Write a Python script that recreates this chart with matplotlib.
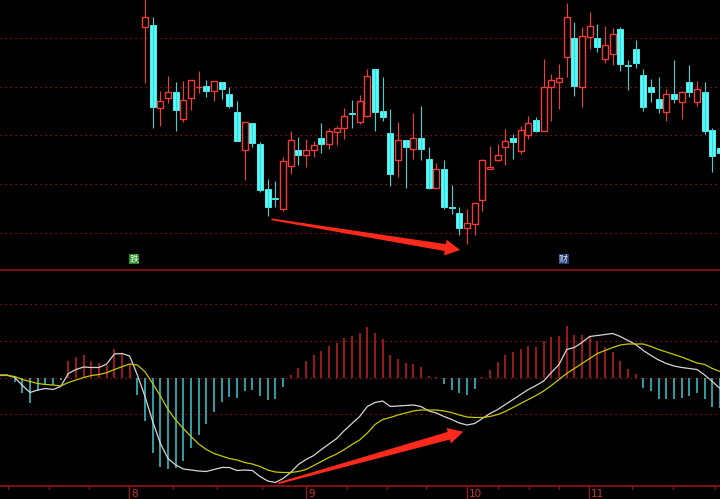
import matplotlib.pyplot as plt
from matplotlib.patches import Rectangle, Polygon
from matplotlib.transforms import IdentityTransform

plt.rcParams['font.family'] = ['Noto Sans CJK SC', 'DejaVu Sans']

# daily candles, index 17..92 (earlier days sit above the visible price range)
candle_idx = list(range(17, 93))
opens = [27.33, 27.5, 19.17, 20.23, 20.83, 18.13, 20.23, 21.3, 21.37, 20.9,
         21.8, 20.57, 18.8, 14.97, 17.73, 15.6, 11.13, 10.2, 9.13, 13.43,
         15.03, 14.5, 15.0, 16.17, 15.57, 16.8, 17.17, 18.7, 17.83, 18.4,
         23.13, 18.9, 16.7, 14.0, 16.0, 15.07, 16.23, 14.07, 11.17, 13.07,
         9.25, 8.67, 7.17, 7.57, 9.97, 13.07, 13.97, 15.27, 16.17, 14.93,
         16.47, 18.0, 16.9, 21.33, 21.77, 24.33, 26.17, 21.33, 26.33, 26.2,
         24.13, 24.57, 27.1, 23.5, 25.07, 22.5, 21.33, 20.07, 18.83, 20.57,
         19.83, 21.8, 19.83, 20.83, 16.97, 15.17]
highs = [31.0, 28.27, 20.93, 22.4, 21.83, 21.9, 21.97, 22.93, 22.0, 21.87,
         21.8, 21.27, 19.9, 17.83, 17.73, 15.77, 12.1, 11.9, 14.27, 16.9,
         16.33, 16.07, 15.9, 17.67, 17.17, 17.4, 19.23, 20.0, 20.5, 23.07,
         23.13, 22.27, 19.07, 17.83, 16.0, 18.67, 19.4, 15.27, 13.67, 14.0,
         11.5, 9.33, 9.1, 9.73, 14.07, 15.4, 15.6, 17.1, 16.57, 17.43,
         18.37, 18.33, 24.1, 22.6, 23.6, 29.73, 27.8, 27.33, 28.8, 27.6,
         27.37, 27.17, 27.27, 23.97, 26.0, 23.1, 22.07, 22.27, 21.13, 24.0,
         20.93, 23.5, 21.9, 21.77, 17.17, 15.3]
lows = [21.67, 17.17, 17.4, 19.67, 16.9, 17.83, 19.0, 20.67, 20.33, 19.93,
        20.13, 19.17, 15.93, 12.0, 15.33, 10.8, 8.43, 9.27, 8.9, 12.6,
        13.5, 13.33, 14.33, 14.73, 15.07, 15.5, 16.07, 17.23, 17.57, 18.27,
        16.9, 17.93, 11.4, 12.33, 11.17, 14.07, 14.0, 11.07, 11.17, 9.13,
        8.6, 6.5, 5.6, 6.5, 8.93, 13.07, 13.9, 13.53, 14.13, 14.6,
        16.07, 16.8, 16.9, 17.93, 19.1, 22.27, 20.4, 19.33, 25.07, 24.83,
        23.73, 23.5, 22.93, 21.0, 23.17, 18.93, 19.83, 18.67, 17.93, 19.73,
        18.1, 20.33, 19.4, 16.57, 12.83, 14.5]
closes = [28.33, 19.27, 19.93, 20.8, 19.0, 20.0, 21.97, 21.35, 20.93, 21.87,
          21.13, 19.43, 15.93, 17.83, 15.67, 10.97, 9.33, 10.15, 13.93, 16.0,
          14.5, 15.0, 15.47, 15.57, 16.9, 17.17, 18.4, 18.65, 19.93, 22.4,
          18.83, 18.27, 12.57, 16.0, 15.3, 16.17, 15.07, 11.17, 13.07, 9.33,
          9.23, 7.17, 7.67, 9.73, 14.0, 13.27, 14.47, 15.87, 15.83, 17.0,
          17.7, 16.87, 21.27, 22.0, 22.23, 28.33, 21.4, 26.4, 27.37, 25.27,
          25.5, 26.57, 23.6, 23.45, 23.67, 19.27, 20.83, 19.17, 20.57, 20.1,
          20.8, 20.83, 21.07, 16.9, 14.43, 14.67]

# MACD
hist_idx = list(range(0, 93))
macd_hist = [-0.04, -0.15, -0.25, -0.135, -0.075, -0.07, -0.025, 0.17, 0.21, 0.225,
             0.17, 0.15, 0.125, 0.285, 0.24, 0.14, -0.175, -0.435, -0.75, -0.89,
             -0.915, -0.905, -0.83, -0.70, -0.575, -0.46, -0.34, -0.24, -0.19, -0.20,
             -0.135, -0.12, -0.185, -0.225, -0.21, -0.095, 0.025, 0.10, 0.17, 0.225,
             0.265, 0.32, 0.35, 0.40, 0.42, 0.45, 0.505, 0.45, 0.39, 0.23,
             0.19, 0.15, 0.14, 0.105, 0.015, 0.004, -0.065, -0.12, -0.15, -0.17,
             -0.115, 0.005, 0.08, 0.155, 0.225, 0.26, 0.29, 0.32, 0.31, 0.37,
             0.405, 0.415, 0.515, 0.425, 0.425, 0.415, 0.37, 0.31, 0.26, 0.165,
             0.085, 0.035, -0.10, -0.135, -0.21, -0.21, -0.21, -0.20, -0.185, -0.15,
             -0.215, -0.29, -0.30]
line_idx = list(range(-2, 93))
dif = [0.025, 0.025,
       0.0, -0.08, -0.15, -0.125, -0.11, -0.12, -0.09, 0.04, 0.08, 0.105,
       0.10, 0.10, 0.135, 0.235, 0.24, 0.215, 0.025, -0.19, -0.44, -0.66,
       -0.81, -0.875, -0.915, -0.925, -0.935, -0.94, -0.92, -0.90, -0.90, -0.93,
       -0.925, -0.93, -0.99, -1.035, -1.05, -1.01, -0.95, -0.87, -0.82, -0.78,
       -0.72, -0.665, -0.61, -0.53, -0.46, -0.39, -0.29, -0.25, -0.235, -0.29,
       -0.285, -0.28, -0.275, -0.29, -0.335, -0.355, -0.39, -0.42, -0.455, -0.475,
       -0.46, -0.41, -0.36, -0.32, -0.27, -0.22, -0.17, -0.12, -0.08, -0.035,
       0.05, 0.13, 0.28, 0.30, 0.35, 0.41, 0.42, 0.43, 0.44, 0.41,
       0.37, 0.33, 0.27, 0.22, 0.175, 0.14, 0.115, 0.10, 0.09, 0.08,
       0.025, -0.04, -0.11]
dea = [0.02, 0.02,
       0.01, -0.02, -0.04, -0.06, -0.07, -0.075, -0.085, -0.05, -0.025, 0.0,
       0.02, 0.03, 0.048, 0.08, 0.108, 0.135, 0.125, 0.058, -0.06, -0.185,
       -0.32, -0.425, -0.51, -0.59, -0.665, -0.72, -0.76, -0.785, -0.81, -0.825,
       -0.85, -0.865, -0.89, -0.925, -0.945, -0.95, -0.95, -0.94, -0.92, -0.88,
       -0.84, -0.80, -0.765, -0.72, -0.67, -0.625, -0.555, -0.47, -0.42, -0.40,
       -0.375, -0.355, -0.335, -0.325, -0.325, -0.325, -0.335, -0.35, -0.375, -0.395,
       -0.40, -0.40, -0.39, -0.37, -0.34, -0.30, -0.26, -0.22, -0.18, -0.135,
       -0.08, -0.02, 0.04, 0.09, 0.14, 0.19, 0.24, 0.27, 0.30, 0.325,
       0.335, 0.335, 0.335, 0.31, 0.28, 0.255, 0.23, 0.205, 0.175, 0.145,
       0.13, 0.09, 0.06]

month_ticks = [14.9, 38.0, 59.0, 74.9]
month_labels = ['8', '9', '10', '11']
week_ticks = [-0.83, 4.47, 9.65, 20.7, 26.4, 32.2, 43.3, 48.5, 53.7,
              63.0, 67.1, 71.0, 80.5, 85.9, 91.3]

price_grid = [26.17, 21.33, 16.47, 11.6, 6.67]
macd_grid = [0.735, 0.368, 0.0, -0.362]

signal_x = [15.6, 71.6]
signal_text = ['跌', '财']
signal_bg = ['#1c8c1c', '#1d3d70']
signal_fg = ['white', '#dfe6ff']

UP = '#f23a36'
DOWN = '#54fcfc'
AXIS = '#a81414'
GRID = '#b01414'
ARROW = '#ff2a1c'

fig = plt.figure(figsize=(7.2, 4.99), dpi=100, facecolor='black')
ax2 = fig.add_axes([0, 12.7 / 499, 1, 216.3 / 499], facecolor='black')
ax1 = fig.add_axes([0, 229 / 499, 1, 270 / 499], facecolor='black')
ax1.set_zorder(3)

xlim = (-1.917, 92.0)
for ax in (ax1, ax2):
    ax.set_xlim(*xlim)
    for s in ('top', 'left', 'right'):
        ax.spines[s].set_visible(False)
    ax.spines['bottom'].set_color(AXIS)
    ax.spines['bottom'].set_linewidth(1.1)
    ax.set_yticks([])

ax1.set_ylim(3.0, 30.0)
ax2.set_ylim(-1.088, 1.075)
ax1.set_xticks([])

for g in price_grid:
    ax1.axhline(g, color=GRID, lw=0.9, ls=(0, (1, 3)), zorder=0)
for g in macd_grid:
    ax2.axhline(g, color=GRID, lw=0.9, ls=(0, (1, 3)), zorder=0)

# candlesticks
bw = 0.78
for i, o, h, l, c in zip(candle_idx, opens, highs, lows, closes):
    top, bot = max(o, c), min(o, c)
    if c > o:
        ax1.vlines(i, top, h, color=UP, lw=0.8)
        ax1.vlines(i, l, bot, color=UP, lw=0.8)
        ax1.add_patch(Rectangle((i - bw / 2, bot), bw, top - bot,
                                facecolor='black', edgecolor=UP, lw=1.0))
    else:
        ax1.vlines(i, l, h, color='#3ed2d2', lw=0.8)
        ax1.add_patch(Rectangle((i - bw / 2, bot), bw, max(top - bot, 0.06),
                                facecolor=DOWN, edgecolor=DOWN, lw=0.6))

for x, t, bg, fg in zip(signal_x, signal_text, signal_bg, signal_fg):
    ax1.text(x, 4.1, t, color=fg, fontsize=6.5, ha='center', va='center',
             family='Noto Sans CJK SC',
             bbox=dict(boxstyle='square,pad=0.05', fc=bg, ec='none'))

# MACD histogram and lines
pos = [(i, v) for i, v in zip(hist_idx, macd_hist) if v >= 0]
neg = [(i, v) for i, v in zip(hist_idx, macd_hist) if v < 0]
ax2.vlines([p[0] for p in pos], 0, [p[1] for p in pos], color='#c42020', lw=1.1)
ax2.vlines([p[0] for p in neg], 0, [p[1] for p in neg], color='#3cc8d2', lw=1.1)
ax2.plot(line_idx, dif, color='#d6d6d6', lw=0.9)
ax2.plot(line_idx, dea, color='#c8c800', lw=0.9)

ax2.set_xticks(month_ticks)
ax2.set_xticklabels([])
ax2.set_xticks(week_ticks, minor=True)
ax2.tick_params(axis='x', which='major', length=9.5, width=0.9, color=AXIS, direction='out')
ax2.tick_params(axis='x', which='minor', length=2.2, width=0.8, color=AXIS, direction='out')
for x, lab in zip(month_ticks, month_labels):
    ax2.text(x + 0.25, -0.012, lab, transform=ax2.get_xaxis_transform(),
             color='#d23030', fontsize=7.5, ha='left', va='top', family='DejaVu Sans')


def taper_arrow(ax, start, end, w0, w1, head_w, head_l):
    p0 = ax.transData.transform(start)
    p1 = ax.transData.transform(end)
    d = p1 - p0
    d = d / (d ** 2).sum() ** 0.5
    n = [-d[1], d[0]]
    base = p1 - d * head_l
    pts = [p0 + [n[0] * w0 / 2, n[1] * w0 / 2],
           base + [n[0] * w1 / 2, n[1] * w1 / 2],
           base + [n[0] * head_w / 2, n[1] * head_w / 2],
           p1,
           base - [n[0] * head_w / 2, n[1] * head_w / 2],
           base - [n[0] * w1 / 2, n[1] * w1 / 2],
           p0 - [n[0] * w0 / 2, n[1] * w0 / 2]]
    poly = Polygon(pts, closed=True, transform=IdentityTransform(),
                   facecolor=ARROW, edgecolor='none', zorder=10)
    fig.add_artist(poly)


taper_arrow(ax1, (33.5, 8.07), (58.1, 5.0), 1.8, 7, 16, 15)
taper_arrow(ax2, (34.4, -1.058), (58.5, -0.542), 1.8, 8, 16, 15)

fig.savefig('out.png', dpi=100, facecolor='black')
